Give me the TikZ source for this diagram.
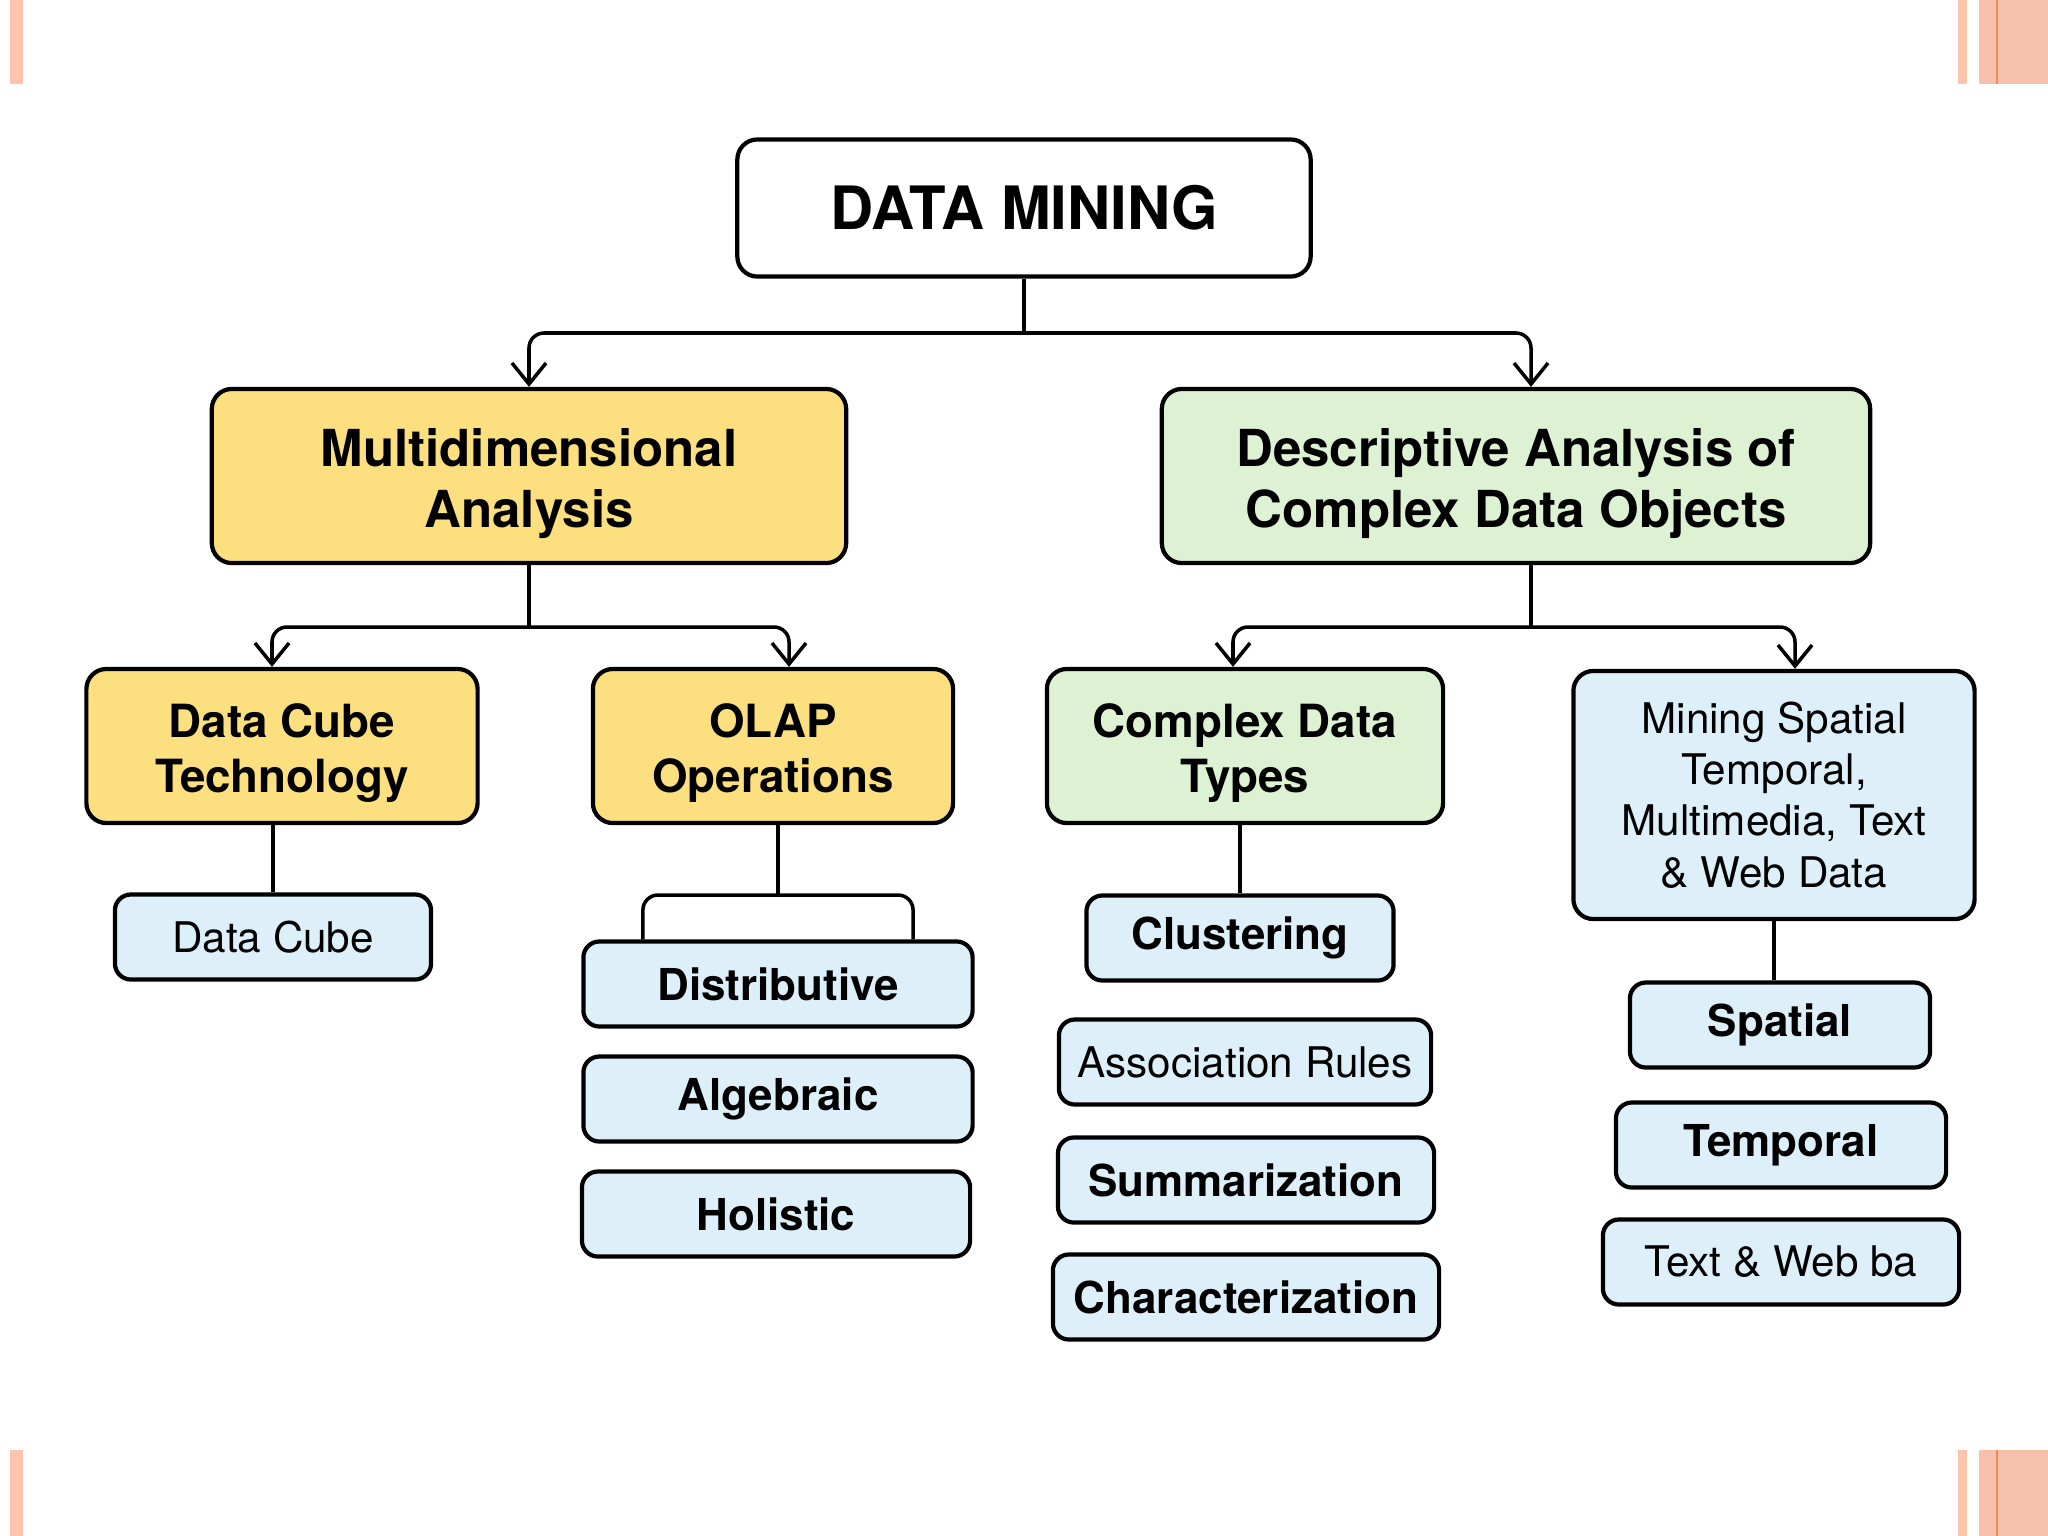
\documentclass[tikz,border=0pt]{standalone}
\usepackage{fontspec}
\setmainfont{TeX Gyre Heros}
\usetikzlibrary{arrows.meta}
\definecolor{mdyellow}{HTML}{FCDF7E}
\definecolor{dagreen}{HTML}{DDF2D2}
\definecolor{leafblue}{HTML}{DDF0FA}
\definecolor{barpeach}{HTML}{FFC4AC}
\definecolor{barsalmon}{HTML}{F6C0AC}
\definecolor{barorange}{HTML}{F58A4E}
\newcommand{\upstrut}{\rule{0pt}{1.05em}}

\begin{document}
\begin{tikzpicture}[x=0.01cm, y=-0.01cm, line width=1pt,
    >={Straight Barb[length=2.1mm,width=3.4mm]}]
  \tikzset{
    box/.style={draw, line width=1.2pt, rounded corners=0.2cm, align=center, inner sep=0pt},
    rootbox/.style={box, fill=white, font=\fontsize{17}{20}\selectfont\bfseries},
    headbox/.style={box, font=\fontsize{14.5}{17.5}\selectfont\bfseries},
    subbox/.style={box, font=\fontsize{13}{15.5}\selectfont\bfseries},
    leafbox/.style={box, fill=leafblue, rounded corners=0.16cm, minimum height=0.85cm, font=\fontsize{12.5}{15}\selectfont\bfseries},
    leaflight/.style={leafbox, font=\fontsize{12}{14.5}\selectfont}
  }
  \useasboundingbox (0,0) rectangle (2048,1536);

  % corner bars
  \fill[barpeach] (10,0) rectangle (23,84);
  \fill[barpeach] (10,1450) rectangle (23,1536);
  \foreach \ytop/\ybot in {0/84, 1450/1536}{
    \fill[barpeach] (1958,\ytop) rectangle (1967,\ybot);
    \fill[barsalmon] (1979,\ytop) rectangle (2048,\ybot);
    \fill[barorange] (1996,\ytop) rectangle (1998,\ybot);
  }

  % nodes
  \node[rootbox, minimum width=5.73cm, minimum height=1.37cm] (dm) at (1024,208) {DATA MINING};

  \node[headbox, fill=mdyellow, minimum width=6.34cm, minimum height=1.74cm] (multi) at (529,476) {\upstrut Multidimensional\\Analysis};
  \node[headbox, fill=dagreen, minimum width=7.08cm, minimum height=1.74cm] (desc) at (1516,476) {\upstrut Descriptive Analysis of\\Complex Data Objects};

  \node[subbox, fill=mdyellow, minimum width=3.91cm, minimum height=1.54cm] (dct) at (282,746) {\upstrut Data Cube\\Technology};
  \node[subbox, fill=mdyellow, minimum width=3.60cm, minimum height=1.54cm] (olap) at (773,746) {\upstrut OLAP\\Operations};
  \node[subbox, fill=dagreen, minimum width=3.96cm, minimum height=1.54cm] (cdt) at (1245,746) {\upstrut Complex Data\\Types};
  \node[box, fill=leafblue, minimum width=4.01cm, minimum height=2.48cm, font=\fontsize{12}{14.6}\selectfont] (msp) at (1774,795) {Mining Spatial\\Temporal,\\Multimedia, Text\\\& Web Data};

  \node[leaflight, minimum width=3.16cm] (dcube) at (273,937) {Data Cube};

  \node[leafbox, minimum width=3.89cm] (distr) at (778,984) {Distributive};
  \node[leafbox, minimum width=3.89cm] (alg) at (778,1099) {Algebraic};
  \node[leafbox, minimum width=3.88cm] (hol) at (776,1214) {Holistic};

  \node[leafbox, minimum width=3.07cm] (clus) at (1240,938) {Clustering};
  \node[leaflight, minimum width=3.72cm] (assoc) at (1245,1062) {Association Rules};
  \node[leafbox, minimum width=3.76cm] (summ) at (1246,1180) {Summarization};
  \node[leafbox, minimum width=3.86cm] (charz) at (1246,1297) {Characterization};

  \node[leafbox, minimum width=3.00cm] (spat) at (1780,1025) {Spatial};
  \node[leafbox, minimum width=3.30cm] (temp) at (1781,1145) {Temporal};
  \node[leaflight, minimum width=3.56cm] (tweb) at (1781,1262) {Text \& Web ba};

  % split points
  \coordinate (dmsplit) at (1024,333);
  \coordinate (multisplit) at (529,627);
  \coordinate (descsplit) at (1531,627);
  \coordinate (olapsplit) at (778,895);

  % connectors
  \draw (dm.south) -- (dmsplit);
  \draw[->, rounded corners=0.15cm] (dmsplit) -| (multi.north);
  \draw[->, rounded corners=0.15cm] (dmsplit) -| ([xshift=0.15cm]desc.north);

  \draw (multi.south) -- (multisplit);
  \draw[->, rounded corners=0.15cm] (multisplit) -| ([xshift=-0.1cm]dct.north);
  \draw[->, rounded corners=0.15cm] (multisplit) -| ([xshift=0.16cm]olap.north);

  \draw (desc.south -| descsplit) -- (descsplit);
  \draw[->, rounded corners=0.15cm] (descsplit) -| ([xshift=-0.12cm]cdt.north);
  \draw[->, rounded corners=0.15cm] (descsplit) -| ([xshift=0.21cm]msp.north);

  \draw (dcube.north |- dct.south) -- (dcube.north);
  \draw (olap.south -| olapsplit) -- (olapsplit);
  \draw[rounded corners=0.15cm] ([xshift=-1.35cm]distr.north) |- (olapsplit) -| ([xshift=1.35cm]distr.north);
  \draw (clus.north |- cdt.south) -- (clus.north);
  \draw (spat.north -| msp.south) -- (msp.south);
\end{tikzpicture}
\end{document}
